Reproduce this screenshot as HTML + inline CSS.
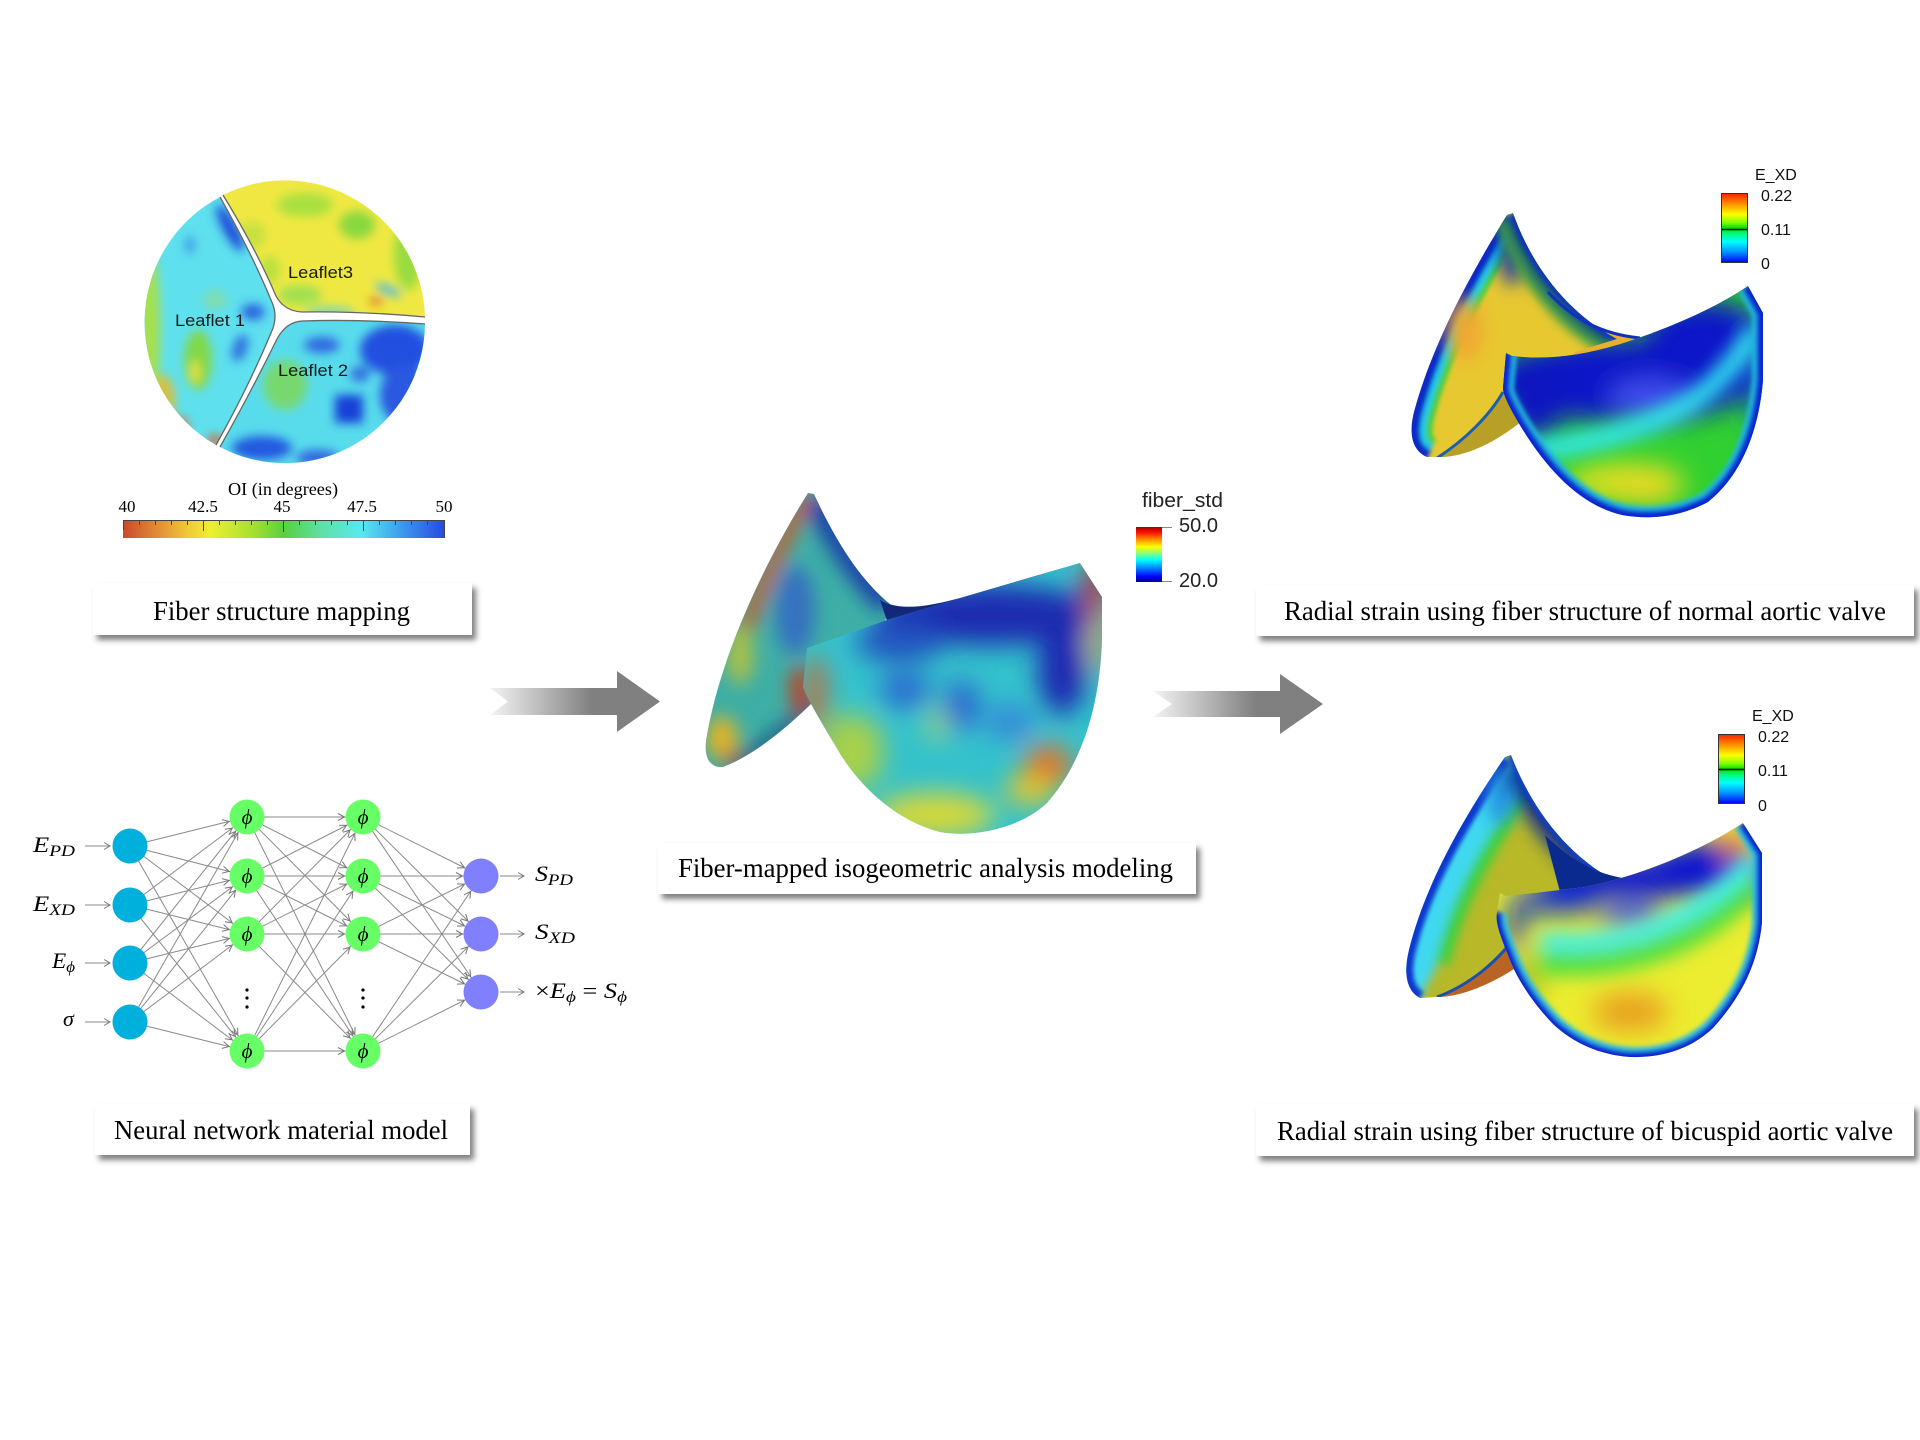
<!DOCTYPE html>
<html><head><meta charset="utf-8">
<style>
html,body{margin:0;padding:0;background:#fff;width:1920px;height:1440px;overflow:hidden;}
svg{display:block;}
.cap{font-family:"Liberation Serif",serif;font-size:27px;fill:#000;}
.sans{font-family:"Liberation Sans",sans-serif;}
.m{font-family:"Liberation Serif","DejaVu Serif",serif;font-style:italic;fill:#000;}
.e{stroke:#8a8a8a;stroke-width:1;marker-end:url(#ah);}
</style></head><body>
<svg width="1920" height="1440" viewBox="0 0 1920 1440" xmlns="http://www.w3.org/2000/svg">
<defs>
 <filter id="sh" x="-10%" y="-40%" width="125%" height="200%"><feDropShadow dx="4" dy="5" stdDeviation="3" flood-color="#000" flood-opacity="0.5"/></filter>
 <filter id="b2" x="-20%" y="-20%" width="140%" height="140%"><feGaussianBlur stdDeviation="2"/></filter>
 <filter id="b5" x="-50%" y="-50%" width="200%" height="200%"><feGaussianBlur stdDeviation="5"/></filter>
 <filter id="b9" x="-50%" y="-50%" width="200%" height="200%"><feGaussianBlur stdDeviation="9"/></filter>
 <filter id="b13" x="-50%" y="-50%" width="200%" height="200%"><feGaussianBlur stdDeviation="13"/></filter>
 <marker id="ah" viewBox="-30 -6 30 12" markerWidth="30" markerHeight="12" refX="0" refY="0" orient="auto" markerUnits="userSpaceOnUse"><path d="M-25,-3.5 L-18.5,0 L-25,3.5" fill="none" stroke="#777" stroke-width="1"/></marker>
 <marker id="ah2" viewBox="-8 -6 9 12" markerWidth="9" markerHeight="12" refX="0" refY="0" orient="auto" markerUnits="userSpaceOnUse"><path d="M-6,-3.5 L0,0 L-6,3.5" fill="none" stroke="#777" stroke-width="1"/></marker>
 <linearGradient id="ag" x1="0" x2="1" y1="0" y2="0"><stop offset="0" stop-color="#f4f4f4"/><stop offset="0.6" stop-color="#808080"/><stop offset="1" stop-color="#808080"/></linearGradient>
 <linearGradient id="oi" x1="0" x2="1" y1="0" y2="0">
  <stop offset="0" stop-color="#c84a2a"/><stop offset="0.1" stop-color="#e08838"/><stop offset="0.2" stop-color="#f0c838"/><stop offset="0.27" stop-color="#eef030"/><stop offset="0.4" stop-color="#a8e030"/><stop offset="0.5" stop-color="#58d040"/><stop offset="0.62" stop-color="#60e0a8"/><stop offset="0.74" stop-color="#58e8f0"/><stop offset="0.87" stop-color="#3c98ec"/><stop offset="1" stop-color="#2848e0"/>
 </linearGradient>
 <linearGradient id="fs" x1="0" x2="0" y1="0" y2="1">
  <stop offset="0" stop-color="#a00000"/><stop offset="0.1" stop-color="#ff1000"/><stop offset="0.22" stop-color="#ff8800"/><stop offset="0.36" stop-color="#ffff00"/><stop offset="0.47" stop-color="#90ff70"/><stop offset="0.6" stop-color="#00ffff"/><stop offset="0.75" stop-color="#0080ff"/><stop offset="0.9" stop-color="#0000ff"/><stop offset="1" stop-color="#000090"/>
 </linearGradient>
 <linearGradient id="ex" x1="0" x2="0" y1="0" y2="1">
  <stop offset="0" stop-color="#ff2000"/><stop offset="0.15" stop-color="#ff9000"/><stop offset="0.3" stop-color="#ffff00"/><stop offset="0.42" stop-color="#80ff00"/><stop offset="0.5" stop-color="#00e000"/><stop offset="0.6" stop-color="#00ff90"/><stop offset="0.7" stop-color="#00ffff"/><stop offset="0.85" stop-color="#0090ff"/><stop offset="1" stop-color="#0000ff"/>
 </linearGradient>
 <clipPath id="cL1"><path d="M220,197 Q252,254 271,300 Q279,316 271,333 Q248,388 216,445 A140,141 0 0 1 220,197 Z"/></clipPath>
 <clipPath id="cL3"><path d="M223,195 Q256,249 276,296 Q284,311 302,312 Q360,311 425,317 A140,141 0 0 0 223,195 Z"/></clipPath>
 <clipPath id="cL2"><path d="M425,324 Q360,319 302,321 Q286,322 277,339 Q251,392 220,447 A140,141 0 0 0 425,324 Z"/></clipPath>
 <clipPath id="mLL"><path d="M808,493 L814,494 C835,540 860,580 890,604 L880,640 L815,700 C790,725 755,755 723,767 C708,768 703,755 707,735 C720,660 760,570 808,493 Z"/></clipPath>
 <clipPath id="mFL"><path d="M807,648 L887,620 L1080,563 L1102,597 L1102,640 C1100,700 1085,760 1047,803 C1020,828 975,838 940,832 C900,822 860,790 835,745 C820,720 808,700 803,687 Z"/></clipPath>
 <clipPath id="tLL"><path d="M1507,215 L1513,213 C1530,262 1565,312 1617,339 L1575,352 L1523,420 C1495,443 1465,457 1440,457 L1427,457 C1411,450 1409,432 1414,412 C1432,345 1470,275 1507,215 Z"/></clipPath>
 <clipPath id="tFL"><path d="M1506,353 L1512,356 C1545,360 1580,356 1617,345 C1665,330 1712,310 1748,286 L1763,313 L1763,380 C1759,430 1742,475 1708,502 C1680,517 1650,520 1622,515 C1580,505 1548,470 1523,430 C1512,412 1503,396 1503,388 Z"/></clipPath>
 <clipPath id="bLL"><path d="M1505,757 L1511,755 C1530,805 1565,855 1617,882 L1580,890 L1517,967 C1490,985 1460,997 1437,997 L1420,998 C1405,990 1404,970 1409,950 C1425,885 1463,818 1505,757 Z"/></clipPath>
 <clipPath id="bFL"><path d="M1500,893 L1506,896 C1535,893 1560,890 1585,887 C1640,876 1700,851 1743,823 L1762,853 L1762,923 C1758,962 1743,995 1713,1028 C1690,1050 1660,1058 1630,1057 C1600,1055 1573,1043 1553,1024 C1530,1000 1515,975 1508,955 C1500,935 1495,922 1497,912 Z"/></clipPath>
</defs>

<rect width="1920" height="1440" fill="#fff"/>

<!-- ============ Fiber structure circle ============ -->
<g clip-path="url(#cL1)">
 <rect x="140" y="185" width="150" height="275" fill="#5ee0ee"/>
 <g filter="url(#b5)">
  <ellipse cx="150" cy="330" rx="10" ry="80" fill="#a8e048"/>
  <ellipse cx="163" cy="400" rx="12" ry="25" fill="#d8c040"/>
  <ellipse cx="175" cy="425" rx="14" ry="8" fill="#e07030"/>
  <ellipse cx="215" cy="440" rx="8" ry="5" fill="#e06020"/>
  <ellipse cx="198" cy="360" rx="14" ry="30" fill="#80d848"/>
  <ellipse cx="195" cy="372" rx="5" ry="12" fill="#e8e040"/>
  <ellipse cx="230" cy="228" rx="7" ry="26" fill="#1e48d8" transform="rotate(-28 230 228)"/>
  <ellipse cx="190" cy="245" rx="4" ry="9" fill="#3a8ae8"/>
  <ellipse cx="253" cy="312" rx="12" ry="8" fill="#2a62e0"/>
  <ellipse cx="240" cy="348" rx="7" ry="14" fill="#2e6ee0" transform="rotate(20 240 348)"/>
  <ellipse cx="215" cy="300" rx="12" ry="10" fill="#80dcb0"/>
 </g>
</g>
<g clip-path="url(#cL3)">
 <rect x="215" y="175" width="215" height="150" fill="#f0e842"/>
 <g filter="url(#b5)">
  <ellipse cx="305" cy="205" rx="28" ry="12" fill="#a8e040"/>
  <ellipse cx="357" cy="225" rx="18" ry="14" fill="#88d840"/>
  <ellipse cx="408" cy="255" rx="14" ry="35" fill="#98dc40"/>
  <ellipse cx="252" cy="235" rx="14" ry="14" fill="#c8e040"/>
  <ellipse cx="300" cy="295" rx="22" ry="10" fill="#a0e050"/>
  <ellipse cx="270" cy="270" rx="10" ry="14" fill="#b8e040"/>
  <ellipse cx="388" cy="290" rx="14" ry="4" fill="#40b8f0" transform="rotate(25 388 290)"/>
  <ellipse cx="376" cy="301" rx="7" ry="3" fill="#d84820"/>
  <ellipse cx="330" cy="312" rx="25" ry="5" fill="#70d8b0"/>
 </g>
</g>
<g clip-path="url(#cL2)">
 <rect x="215" y="318" width="215" height="150" fill="#58dcec"/>
 <g filter="url(#b5)">
  <ellipse cx="395" cy="350" rx="35" ry="25" fill="#2250e0"/>
  <ellipse cx="405" cy="395" rx="25" ry="30" fill="#2a58e0"/>
  <rect x="335" y="395" width="28" height="28" fill="#1840d8"/>
  <ellipse cx="285" cy="385" rx="22" ry="25" fill="#78d870"/>
  <ellipse cx="262" cy="448" rx="30" ry="12" fill="#2458e0"/>
  <ellipse cx="318" cy="458" rx="22" ry="8" fill="#3064e0"/>
  <ellipse cx="322" cy="345" rx="18" ry="8" fill="#2e66e0"/>
  <ellipse cx="360" cy="374" rx="10" ry="8" fill="#3070e0"/>
 </g>
</g>
<g fill="none" stroke="#666" stroke-width="1.3">
 <path d="M220,197 Q252,254 271,300 Q279,316 271,333 Q248,388 216,445"/>
 <path d="M223,195 Q256,249 276,296 Q284,311 302,312 Q360,311 425,317"/>
 <path d="M425,324 Q360,319 302,321 Q286,322 277,339 Q251,392 220,447"/>
</g>
<text x="288" y="278" class="sans" font-size="17" fill="#1a1a1a" textLength="65" lengthAdjust="spacingAndGlyphs">Leaflet3</text>
<text x="175" y="326" class="sans" font-size="17" fill="#1a1a1a" textLength="70" lengthAdjust="spacingAndGlyphs">Leaflet 1</text>
<text x="278" y="376" class="sans" font-size="17" fill="#1a1a1a" textLength="70" lengthAdjust="spacingAndGlyphs">Leaflet 2</text>

<!-- OI colorbar -->
<text x="283" y="495" text-anchor="middle" font-family="Liberation Serif,serif" font-size="18" textLength="110" lengthAdjust="spacingAndGlyphs">OI (in degrees)</text>
<g font-family="Liberation Serif,serif" font-size="17" text-anchor="middle">
 <text x="127" y="512">40</text><text x="203" y="512">42.5</text><text x="282" y="512">45</text><text x="362" y="512">47.5</text><text x="444" y="512">50</text>
</g>
<rect x="123" y="521" width="322" height="17" fill="url(#oi)"/>
<path d="M123,520.5 H445" stroke="#444" stroke-width="1"/>
<g stroke="#444" stroke-width="1">
 <path d="M123.5,520 v10 M203.5,520 v11 M283.5,520 v12 M363.5,520 v11 M444.5,520 v17"/>
 <path d="M139.5,520 v5 M155.5,520 v5 M171.5,520 v5 M187.5,520 v5 M219.5,520 v5 M235.5,520 v5 M251.5,520 v5 M267.5,520 v5 M299.5,520 v5 M315.5,520 v5 M331.5,520 v5 M347.5,520 v5 M379.5,520 v5 M395.5,520 v5 M411.5,520 v5 M427.5,520 v5"/>
</g>

<!-- ============ Neural network ============ -->
<g>
 <line class="e" x1="130" y1="846" x2="247" y2="817"/><line class="e" x1="130" y1="846" x2="247" y2="876"/><line class="e" x1="130" y1="846" x2="247" y2="934"/><line class="e" x1="130" y1="846" x2="247" y2="1051"/>
 <line class="e" x1="130" y1="905" x2="247" y2="817"/><line class="e" x1="130" y1="905" x2="247" y2="876"/><line class="e" x1="130" y1="905" x2="247" y2="934"/><line class="e" x1="130" y1="905" x2="247" y2="1051"/>
 <line class="e" x1="130" y1="963" x2="247" y2="817"/><line class="e" x1="130" y1="963" x2="247" y2="876"/><line class="e" x1="130" y1="963" x2="247" y2="934"/><line class="e" x1="130" y1="963" x2="247" y2="1051"/>
 <line class="e" x1="130" y1="1022" x2="247" y2="817"/><line class="e" x1="130" y1="1022" x2="247" y2="876"/><line class="e" x1="130" y1="1022" x2="247" y2="934"/><line class="e" x1="130" y1="1022" x2="247" y2="1051"/>
 <line class="e" x1="247" y1="817" x2="363" y2="817"/><line class="e" x1="247" y1="817" x2="363" y2="876"/><line class="e" x1="247" y1="817" x2="363" y2="934"/><line class="e" x1="247" y1="817" x2="363" y2="1051"/>
 <line class="e" x1="247" y1="876" x2="363" y2="817"/><line class="e" x1="247" y1="876" x2="363" y2="876"/><line class="e" x1="247" y1="876" x2="363" y2="934"/><line class="e" x1="247" y1="876" x2="363" y2="1051"/>
 <line class="e" x1="247" y1="934" x2="363" y2="817"/><line class="e" x1="247" y1="934" x2="363" y2="876"/><line class="e" x1="247" y1="934" x2="363" y2="934"/><line class="e" x1="247" y1="934" x2="363" y2="1051"/>
 <line class="e" x1="247" y1="1051" x2="363" y2="817"/><line class="e" x1="247" y1="1051" x2="363" y2="876"/><line class="e" x1="247" y1="1051" x2="363" y2="934"/><line class="e" x1="247" y1="1051" x2="363" y2="1051"/>
 <line class="e" x1="363" y1="817" x2="481" y2="876"/><line class="e" x1="363" y1="817" x2="481" y2="934"/><line class="e" x1="363" y1="817" x2="481" y2="992"/>
 <line class="e" x1="363" y1="876" x2="481" y2="876"/><line class="e" x1="363" y1="876" x2="481" y2="934"/><line class="e" x1="363" y1="876" x2="481" y2="992"/>
 <line class="e" x1="363" y1="934" x2="481" y2="876"/><line class="e" x1="363" y1="934" x2="481" y2="934"/><line class="e" x1="363" y1="934" x2="481" y2="992"/>
 <line class="e" x1="363" y1="1051" x2="481" y2="876"/><line class="e" x1="363" y1="1051" x2="481" y2="934"/><line class="e" x1="363" y1="1051" x2="481" y2="992"/>
 <g stroke="#8a8a8a" stroke-width="1" marker-end="url(#ah2)">
  <line x1="85" y1="846" x2="110" y2="846"/><line x1="85" y1="905" x2="110" y2="905"/><line x1="85" y1="963" x2="110" y2="963"/><line x1="85" y1="1022" x2="110" y2="1022"/>
  <line x1="500" y1="876" x2="524" y2="876"/><line x1="500" y1="934" x2="524" y2="934"/><line x1="500" y1="992" x2="524" y2="992"/>
 </g>
 <g fill="#00b0dc"><circle cx="130" cy="846" r="17.5"/><circle cx="130" cy="905" r="17.5"/><circle cx="130" cy="963" r="17.5"/><circle cx="130" cy="1022" r="17.5"/></g>
 <g fill="#66ff66"><circle cx="247" cy="817" r="17.5"/><circle cx="247" cy="876" r="17.5"/><circle cx="247" cy="934" r="17.5"/><circle cx="247" cy="1051" r="17.5"/>
  <circle cx="363" cy="817" r="17.5"/><circle cx="363" cy="876" r="17.5"/><circle cx="363" cy="934" r="17.5"/><circle cx="363" cy="1051" r="17.5"/></g>
 <g fill="#8080ff"><circle cx="481" cy="876" r="17.5"/><circle cx="481" cy="934" r="17.5"/><circle cx="481" cy="992" r="17.5"/></g>
 <g class="m" font-size="21" text-anchor="middle">
  <text x="247" y="824">ϕ</text><text x="247" y="883">ϕ</text><text x="247" y="941">ϕ</text><text x="247" y="1058">ϕ</text>
  <text x="363" y="824">ϕ</text><text x="363" y="883">ϕ</text><text x="363" y="941">ϕ</text><text x="363" y="1058">ϕ</text>
 </g>
 <g fill="#000"><circle cx="247" cy="990" r="1.6"/><circle cx="247" cy="998" r="1.6"/><circle cx="247" cy="1007" r="1.6"/>
  <circle cx="363" cy="990" r="1.6"/><circle cx="363" cy="998" r="1.6"/><circle cx="363" cy="1007" r="1.6"/></g>
 <text x="33" y="852" class="m" font-size="22" textLength="42" lengthAdjust="spacingAndGlyphs">E<tspan font-size="16" dy="4">PD</tspan></text>
 <text x="33" y="911" class="m" font-size="22" textLength="42" lengthAdjust="spacingAndGlyphs">E<tspan font-size="16" dy="4">XD</tspan></text>
 <text x="52" y="968" class="m" font-size="22" textLength="23" lengthAdjust="spacingAndGlyphs">E<tspan font-size="16" dy="4">ϕ</tspan></text>
 <text x="63" y="1026" class="m" font-size="22">σ</text>
 <text x="535" y="881" class="m" font-size="22" textLength="38" lengthAdjust="spacingAndGlyphs">S<tspan font-size="16" dy="4">PD</tspan></text>
 <text x="535" y="939" class="m" font-size="22" textLength="40" lengthAdjust="spacingAndGlyphs">S<tspan font-size="16" dy="4">XD</tspan></text>
 <text x="535" y="998" class="m" font-size="22" textLength="92" lengthAdjust="spacingAndGlyphs"><tspan font-style="normal">×</tspan>E<tspan font-size="16" dy="4">ϕ</tspan><tspan dy="-4" font-style="normal"> = </tspan>S<tspan font-size="16" dy="4">ϕ</tspan></text>
</g>

<!-- ============ Arrows ============ -->
<path d="M490,688 L617,688 L617,671 L660,701.5 L617,732 L617,715 L490,715 L508,701.5 Z" fill="url(#ag)"/>
<path d="M1153,691 L1280,691 L1280,674 L1323,704 L1280,734 L1280,717 L1153,717 L1172,704 Z" fill="url(#ag)"/>

<!-- ============ Middle valve ============ -->
<g clip-path="url(#mLL)">
 <rect x="700" y="485" width="200" height="290" fill="#3eaea6"/>
 <g filter="url(#b9)">
  <path d="M808,495 C780,545 755,600 738,650" stroke="#d05a28" stroke-width="14" fill="none"/>
  <ellipse cx="740" cy="655" rx="14" ry="30" fill="#a8c048"/>
  <ellipse cx="795" cy="610" rx="20" ry="45" fill="#3472c0"/>
  <path d="M816,500 C840,545 862,580 890,604" stroke="#1a44a8" stroke-width="26" fill="none"/>
  <ellipse cx="722" cy="738" rx="16" ry="22" fill="#e0b428"/>
  <ellipse cx="735" cy="760" rx="14" ry="8" fill="#d06828"/>
  <path d="M730,765 C760,750 790,728 815,700" stroke="#18407a" stroke-width="10" fill="none"/>
  <ellipse cx="800" cy="690" rx="10" ry="25" fill="#c04020"/>
 </g>
</g>
<path d="M880,600 C900,612 930,606 960,598 L1080,563 L887,621 Z" fill="#14287a"/>
<g clip-path="url(#mFL)">
 <rect x="800" y="555" width="305" height="285" fill="#34c2cc"/>
 <g filter="url(#b13)">
  <ellipse cx="990" cy="615" rx="115" ry="30" fill="#1a2cb0"/>
  <ellipse cx="900" cy="642" rx="45" ry="20" fill="#2452c0"/>
  <ellipse cx="1062" cy="670" rx="24" ry="45" fill="#1a28b0"/>
  <ellipse cx="905" cy="690" rx="25" ry="18" fill="#2a66d0"/>
  <ellipse cx="962" cy="705" rx="18" ry="25" fill="#2a68d0"/>
  <ellipse cx="1010" cy="722" rx="25" ry="18" fill="#3488d8"/>
  <ellipse cx="1096" cy="588" rx="12" ry="28" fill="#c02010"/>
  <ellipse cx="1098" cy="640" rx="8" ry="35" fill="#e0a030"/>
  <ellipse cx="852" cy="752" rx="32" ry="38" fill="#a8d048"/>
  <ellipse cx="815" cy="695" rx="10" ry="40" fill="#d86020"/>
  <ellipse cx="935" cy="815" rx="60" ry="22" fill="#d8d838"/>
  <ellipse cx="1048" cy="765" rx="24" ry="20" fill="#e87020"/>
  <ellipse cx="1030" cy="790" rx="25" ry="15" fill="#e8c828"/>
  <ellipse cx="937" cy="725" rx="9" ry="18" fill="#a8d070"/>
 </g>
</g>
<text x="1142" y="507" class="sans" font-size="20" fill="#222" textLength="81" lengthAdjust="spacingAndGlyphs">fiber_std</text>
<rect x="1136" y="527" width="26" height="55" fill="url(#fs)"/>
<path d="M1162,527.5 H1172 M1162,581.5 H1172" stroke="#888" stroke-width="1"/>
<text x="1179" y="532" class="sans" font-size="20" fill="#222" textLength="39" lengthAdjust="spacingAndGlyphs">50.0</text>
<text x="1179" y="587" class="sans" font-size="20" fill="#222" textLength="39" lengthAdjust="spacingAndGlyphs">20.0</text>

<!-- ============ Top-right valve ============ -->
<path d="M1548,292 C1572,318 1600,334 1640,338 L1617,350 L1575,360 L1535,362 Z" fill="#e8b030"/>
<g clip-path="url(#tLL)">
 <rect x="1405" y="205" width="220" height="260" fill="#e8c830"/>
 <g filter="url(#b2)">
  <path d="M1507,217 C1470,277 1432,347 1415,413 C1410,435 1412,450 1428,457" stroke="#48d040" stroke-width="40" fill="none"/>
  <path d="M1507,217 C1470,277 1432,347 1415,413 C1410,435 1412,450 1428,457" stroke="#20c8e8" stroke-width="27" fill="none"/>
  <path d="M1507,217 C1470,277 1432,347 1415,413 C1410,435 1412,450 1428,457" stroke="#0a2cc8" stroke-width="15" fill="none"/>
 </g>
 <g filter="url(#b9)">
  <ellipse cx="1465" cy="330" rx="18" ry="32" fill="#f0a830"/>
  <ellipse cx="1512" cy="250" rx="12" ry="35" fill="#1030b0"/>
 </g>
 <g filter="url(#b5)">
  <path d="M1513,215 C1530,262 1565,312 1617,339" stroke="#40a040" stroke-width="40" fill="none"/>
  <path d="M1513,215 C1530,262 1565,312 1617,339" stroke="#1a5a70" stroke-width="22" fill="none"/>
 </g>
 <path d="M1513,215 C1530,262 1565,312 1617,339" stroke="#1030c0" stroke-width="7" fill="none" filter="url(#b2)"/>
 <path d="M1437,458 C1465,440 1490,415 1503,392 L1530,420 C1505,445 1475,458 1437,458 Z" fill="#b8a028"/>
 <path d="M1437,458 C1465,440 1490,415 1503,392" stroke="#1a60b0" stroke-width="3" fill="none"/>
</g>
<path d="M1548,292 C1572,318 1600,334 1640,338" stroke="#1030c0" stroke-width="3" fill="none"/>
<g clip-path="url(#tFL)">
 <rect x="1500" y="280" width="270" height="245" fill="#30d030"/>
 <g filter="url(#b13)">
  <ellipse cx="1620" cy="380" rx="135" ry="42" fill="#0a14c8"/>
  <ellipse cx="1705" cy="335" rx="60" ry="35" fill="#0a14c8"/>
  <ellipse cx="1535" cy="395" rx="30" ry="45" fill="#0a18c0"/>
  <ellipse cx="1650" cy="398" rx="40" ry="18" fill="#4050f0"/>
  <ellipse cx="1625" cy="482" rx="60" ry="20" fill="#d8e020"/>
  <ellipse cx="1645" cy="490" rx="35" ry="14" fill="#f0d820"/>
  <ellipse cx="1757" cy="370" rx="8" ry="60" fill="#1040e0"/>
 </g>
 <path d="M1530,450 C1580,446 1650,430 1700,396 C1725,376 1745,350 1755,330" stroke="#30e8f0" stroke-width="20" fill="none" filter="url(#b9)"/>
 <g filter="url(#b2)" fill="none">
  <path d="M1748,286 L1763,313 L1763,380 C1759,430 1742,475 1708,502 C1680,517 1650,520 1622,515 C1580,505 1548,470 1523,430 C1512,412 1503,396 1503,388 L1506,353" stroke="#20b8e0" stroke-width="22"/>
  <path d="M1748,286 L1763,313 L1763,380 C1759,430 1742,475 1708,502 C1680,517 1650,520 1622,515 C1580,505 1548,470 1523,430 C1512,412 1503,396 1503,388 L1506,353" stroke="#0a28d0" stroke-width="13"/>
 </g>
</g>
<text x="1755" y="180" class="sans" font-size="16" fill="#111">E_XD</text>
<rect x="1721.5" y="193.5" width="26" height="69" fill="url(#ex)" stroke="#333" stroke-width="1"/>
<path d="M1722,229.5 H1747" stroke="#000" stroke-width="1.5"/>
<g class="sans" font-size="16" fill="#111"><text x="1761" y="201">0.22</text><text x="1761" y="235">0.11</text><text x="1761" y="269">0</text></g>

<!-- ============ Bottom-right valve ============ -->
<g clip-path="url(#bLL)">
 <rect x="1400" y="745" width="225" height="260" fill="#b8b828"/>
 <g filter="url(#b5)">
  <path d="M1505,759 C1463,820 1425,885 1409,950 C1404,970 1405,990 1420,998" stroke="#40d040" stroke-width="86" fill="none"/>
  <path d="M1505,759 C1463,820 1425,885 1409,950 C1404,970 1405,990 1420,998" stroke="#40d8f0" stroke-width="56" fill="none"/>
 </g>
 <path d="M1505,759 C1463,820 1425,885 1409,950 C1404,970 1405,990 1420,998" stroke="#1038d0" stroke-width="14" fill="none" filter="url(#b2)"/>
 <g filter="url(#b9)">
  <ellipse cx="1500" cy="795" rx="12" ry="30" fill="#2090e0"/>
  <path d="M1515,762 C1535,810 1565,855 1617,882" stroke="#0a2a90" stroke-width="28" fill="none"/>
 </g>
 <path d="M1511,755 C1530,805 1565,855 1617,882" stroke="#1040d0" stroke-width="6" fill="none" filter="url(#b2)"/>
 <path d="M1437,997 C1470,985 1500,960 1520,930 L1525,965 C1495,985 1465,997 1437,997 Z" fill="#b86424"/>
 <path d="M1437,997 C1470,985 1500,960 1520,930" stroke="#1a50b0" stroke-width="3" fill="none"/>
</g>
<path d="M1545,835 C1570,860 1600,878 1640,880 L1600,890 L1560,892 Z" fill="#0a2a90"/>
<g clip-path="url(#bFL)">
 <rect x="1490" y="815" width="280" height="250" fill="#ecec30"/>
 <g filter="url(#b13)">
  <ellipse cx="1650" cy="878" rx="115" ry="20" fill="#0a18d0"/>
  <ellipse cx="1705" cy="858" rx="50" ry="16" fill="#0a18d0"/>
  <ellipse cx="1555" cy="902" rx="45" ry="12" fill="#1030d0"/>
  <ellipse cx="1630" cy="915" rx="32" ry="12" fill="#4050f0"/>
  <ellipse cx="1630" cy="1012" rx="38" ry="20" fill="#e8a020"/>
  <ellipse cx="1735" cy="848" rx="10" ry="20" fill="#e87020"/>
  <ellipse cx="1515" cy="928" rx="9" ry="22" fill="#1030c0"/>
  <ellipse cx="1530" cy="975" rx="14" ry="25" fill="#a8c020"/>
 </g>
 <g filter="url(#b9)">
  <path d="M1540,962 C1600,970 1665,955 1715,920 C1735,905 1748,890 1758,880" stroke="#50e040" stroke-width="24" fill="none"/>
  <path d="M1540,940 C1600,948 1660,932 1710,898 C1730,883 1745,868 1755,858" stroke="#40f0f0" stroke-width="18" fill="none"/>
 </g>
 <g filter="url(#b2)" fill="none">
  <path d="M1743,823 L1762,853 L1762,923 C1758,962 1743,995 1713,1028 C1690,1050 1660,1058 1630,1057 C1600,1055 1573,1043 1553,1024 C1530,1000 1515,975 1508,955 C1500,935 1495,922 1497,912" stroke="#30c0e0" stroke-width="20"/>
  <path d="M1743,823 L1762,853 L1762,923 C1758,962 1743,995 1713,1028 C1690,1050 1660,1058 1630,1057 C1600,1055 1573,1043 1553,1024 C1530,1000 1515,975 1508,955 C1500,935 1495,922 1497,912" stroke="#0a28d0" stroke-width="11"/>
 </g>
</g>
<text x="1752" y="721" class="sans" font-size="16" fill="#111">E_XD</text>
<rect x="1718.5" y="734.5" width="26" height="69" fill="url(#ex)" stroke="#333" stroke-width="1"/>
<path d="M1719,769.5 H1744" stroke="#000" stroke-width="1.5"/>
<g class="sans" font-size="16" fill="#111"><text x="1758" y="742">0.22</text><text x="1758" y="776">0.11</text><text x="1758" y="811">0</text></g>

<!-- ============ Caption boxes ============ -->
<g filter="url(#sh)" fill="#fff">
 <rect x="93" y="583" width="379" height="52"/>
 <rect x="95" y="1104" width="375" height="51"/>
 <rect x="658" y="843" width="538" height="51"/>
 <rect x="1256" y="585" width="658" height="51"/>
 <rect x="1256" y="1104" width="658" height="52"/>
</g>
<text x="153" y="620" class="cap" textLength="257" lengthAdjust="spacingAndGlyphs">Fiber structure mapping</text>
<text x="114" y="1139" class="cap" textLength="334" lengthAdjust="spacingAndGlyphs">Neural network material model</text>
<text x="678" y="877" class="cap" textLength="495" lengthAdjust="spacingAndGlyphs">Fiber-mapped isogeometric analysis modeling</text>
<text x="1284" y="620" class="cap" textLength="602" lengthAdjust="spacingAndGlyphs">Radial strain using fiber structure of normal aortic valve</text>
<text x="1277" y="1140" class="cap" textLength="616" lengthAdjust="spacingAndGlyphs">Radial strain using fiber structure of bicuspid aortic valve</text>
</svg>
</body></html>
